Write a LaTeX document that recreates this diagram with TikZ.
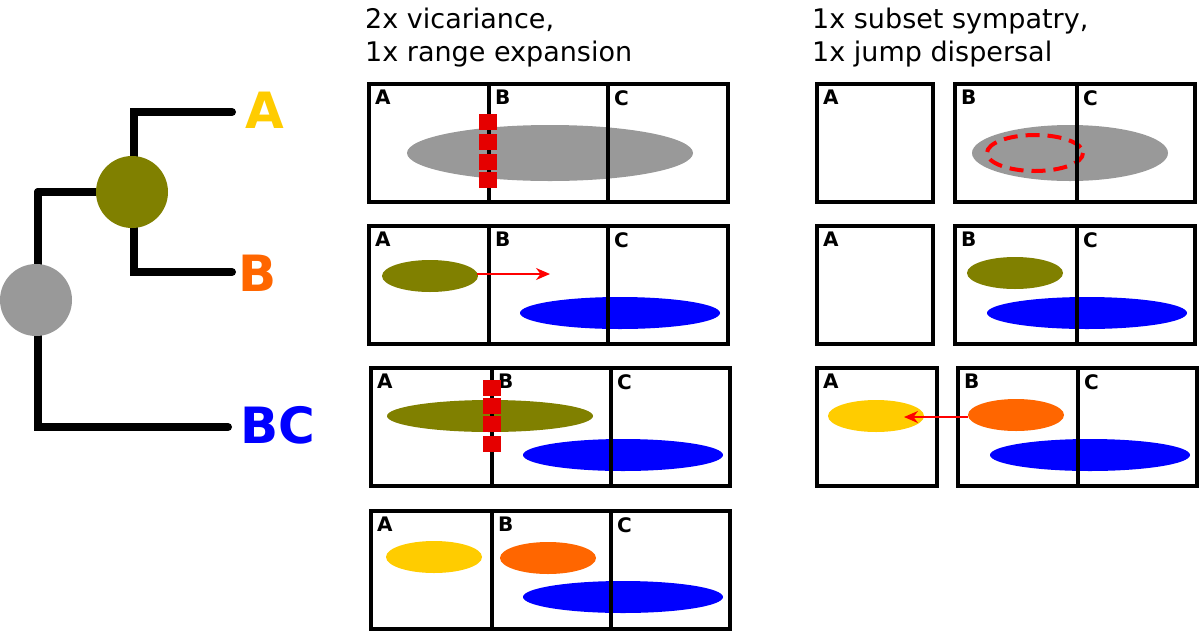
\documentclass[tikz,border=0pt]{standalone}
\usepackage{fontspec}
\setmainfont{DejaVu Sans}
\usetikzlibrary{arrows.meta}
\begin{document}
\begin{tikzpicture}[x=1pt,y=-1pt,
  br/.style={line width=8pt,line cap=round},
  box/.style={draw,line width=4pt},
  cl/.style={anchor=north west,inner sep=0pt,font=\fontsize{20}{20}\selectfont\bfseries},
  big/.style={font=\fontsize{50}{50}\selectfont\bfseries},
  ttl/.style={anchor=north west,align=left,inner sep=0pt,font=\fontsize{27}{33}\selectfont},
  bar/.style={fill=red!90!black,draw=none},
  arr/.style={red,line width=2pt,-{Stealth[length=14pt,width=12pt]}}]
\useasboundingbox (0,0) rectangle (1200,630);
\definecolor{oli}{HTML}{808000}\definecolor{yel}{HTML}{FFCC00}
\definecolor{ora}{HTML}{FF6600}\definecolor{blu}{HTML}{0000FF}\definecolor{gry}{HTML}{999999}
% tree
\draw[br] (38,192) -- (38,427) -- (228,427);
\draw[br] (38,192) -- (132,192);
\draw[br] (232,112) -- (134,112) -- (134,272) -- (232,272);
\fill[gry] (36,300) circle (36);
\fill[oli] (132,192) circle (36);
\node[big,text=yel] (tA) at (265,110) {A};
\node[big,text=ora] (tB) at (258,273) {B};
\node[big,text=blu] (tBC) at (278,425) {BC};
% titles
\node[ttl] (t1) at (365,8) {2x vicariance,\\1x range expansion};
\node[ttl] (t2) at (812,8) {1x subset sympatry,\\1x jump dispersal};
% left column helper macro
\newcommand{\panel}[5]{% x0 x1 x2 x3 ytop
  \draw[box] (#1,#5) rectangle (#4,#5+118);
  \draw[line width=4pt] (#2,#5) -- (#2,#5+118) (#3,#5) -- (#3,#5+118);
  \node[cl] at (#1+6,#5+6) {A};\node[cl] at (#2+6,#5+6) {B};\node[cl] at (#3+6,#5+6) {C};}
% row1
\fill[gry] (550,153) ellipse (143 and 28);
\panel{369}{489}{608}{728}{84}
\foreach \y in {114,134,154,172} \fill[bar] (479,\y) rectangle (497,\y+16);
% row2
\fill[oli] (430,276) ellipse (48 and 16);
\fill[blu] (620,313) ellipse (100 and 16);
\panel{369}{489}{608}{728}{226}
\coordinate (a1) at (477,274); \coordinate (a2) at (550,274);
\draw[arr] (a1) -- (a2);
% row3
\fill[oli] (490,416) ellipse (103 and 16);
\fill[blu] (623,455) ellipse (100 and 16);
\panel{371}{492}{611}{730}{368}
\foreach \y in {380,398,416,436} \fill[bar] (483,\y) rectangle (501,\y+16);
% row4
\fill[yel] (434,557) ellipse (48 and 16);
\fill[ora] (548,558) ellipse (48 and 16);
\fill[blu] (623,597) ellipse (100 and 16);
\panel{371}{492}{611}{730}{511}
% right column
\newcommand{\rpanel}[6]{% ax0 ax1 bx0 bdiv bx1 ytop
  \draw[box] (#1,#6) rectangle (#2,#6+118);
  \draw[box] (#3,#6) rectangle (#5,#6+118);
  \draw[line width=4pt] (#4,#6) -- (#4,#6+118);
  \node[cl] at (#1+6,#6+6) {A};\node[cl] at (#3+6,#6+6) {B};\node[cl] at (#4+6,#6+6) {C};}
\fill[gry] (1070,153) ellipse (98 and 28);
\draw[red,line width=4pt,dash pattern=on 14pt off 8pt] (1035,153) ellipse (48 and 18);
\rpanel{817}{933}{955}{1077}{1195}{84}
\fill[oli] (1015,273) ellipse (48 and 16);
\fill[blu] (1087,313) ellipse (100 and 16);
\rpanel{817}{933}{955}{1077}{1195}{226}
\fill[yel] (876,416) ellipse (48 and 16);
\fill[ora] (1016,415) ellipse (48 and 16);
\fill[blu] (1090,455) ellipse (100 and 16);
\rpanel{817}{937}{958}{1078}{1197}{368}
\coordinate (b1) at (968,417); \coordinate (b2) at (904,417);
\draw[arr] (b1) -- (b2);
\end{tikzpicture}
\end{document}
